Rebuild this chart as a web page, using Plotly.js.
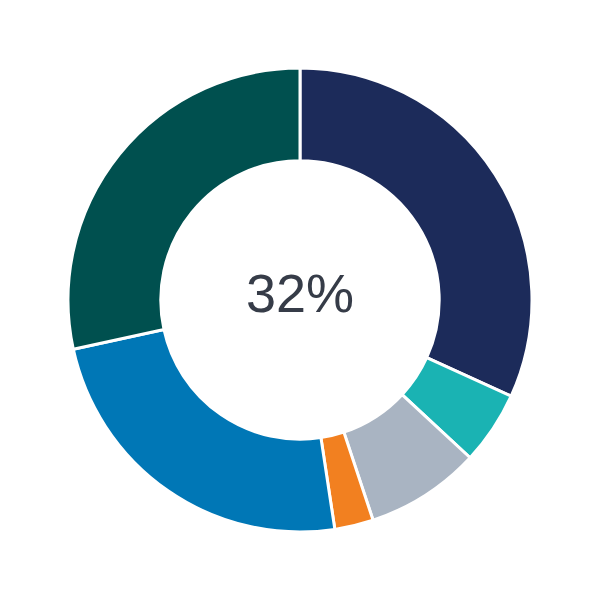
<!DOCTYPE html>
<html>
<head>
<meta charset="utf-8">
<script src="https://cdn.plot.ly/plotly-3.0.1.min.js"></script>
<style>
  html, body { margin: 0; padding: 0; background: #fff; }
  #chart { width: 600px; height: 600px; }
</style>
</head>
<body>
<div id="chart"></div>
<script>
const labels = ["Segment A", "Segment B", "Segment C", "Segment D", "Segment E", "Segment F"];
const shares = [31.8, 5.1, 8.0, 2.7, 24.0, 28.4];
const colors = ["#1c2b5a", "#1ab3b3", "#a9b4c2", "#f28020", "#0077b6", "#00504f"];
const centerLabel = "32%";

const trace = {
  type: "pie",
  labels: labels,
  values: shares,
  hole: 0.6,
  sort: false,
  direction: "clockwise",
  rotation: 0,
  textinfo: "none",
  hoverinfo: "label+percent",
  marker: { colors: colors, line: { color: "#ffffff", width: 3 } },
};

const layout = {
  width: 600,
  height: 600,
  margin: { l: 68, r: 68, t: 68, b: 68 },
  showlegend: false,
  paper_bgcolor: "#ffffff",
  annotations: [{
    text: centerLabel,
    x: 0.5, y: 0.515, xref: "paper", yref: "paper",
    showarrow: false,
    font: { family: "Liberation Sans, Arial, sans-serif", size: 54, color: "#363c48" },
  }],
};

Plotly.newPlot("chart", [trace], layout, { displayModeBar: false, staticPlot: true });
</script>
</body>
</html>
